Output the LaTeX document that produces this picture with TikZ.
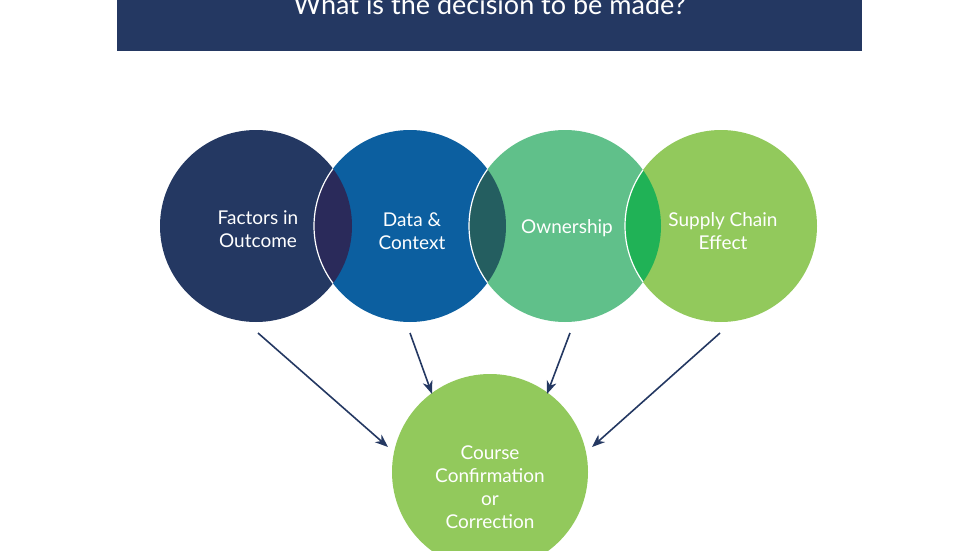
\documentclass[tikz,border=0pt]{standalone}
\usepackage{fontspec}
\setmainfont{Lato}
\usetikzlibrary{arrows.meta}
\begin{document}
\begin{tikzpicture}[x=1pt,y=-1pt,
  lbl/.style={text=white,font=\fontsize{19}{23}\selectfont,align=center},
  arr/.style={draw=c1,line width=1.6pt,-{Stealth[length=13pt,width=10pt,inset=4pt]}}]
\definecolor{c1}{HTML}{243862}
\definecolor{c2}{HTML}{0C5FA0}
\definecolor{c3}{HTML}{60C08A}
\definecolor{c4}{HTML}{92C95C}
\definecolor{o12}{HTML}{2A2A5A}
\definecolor{o23}{HTML}{245E60}
\definecolor{o34}{HTML}{20B256}
\useasboundingbox (0,0) rectangle (980,551);
\fill[c1] (117,0) rectangle (862,51);
\node[text=white,font=\fontsize{27}{31}\selectfont] (title) at (489.5,5) {What is the decision to be made?};
\def\R{96}
\coordinate (p1) at (256,226);
\coordinate (p2) at (410,226);
\coordinate (p3) at (565,226);
\coordinate (p4) at (721,226);
\fill[c1] (p1) circle (\R);
\fill[c2] (p2) circle (\R);
\fill[c3] (p3) circle (\R);
\fill[c4] (p4) circle (\R);
\begin{scope}\clip (p1) circle (\R); \fill[o12] (p2) circle (\R); \draw[white,line width=1.2pt] (p2) circle (\R); \end{scope}
\begin{scope}\clip (p2) circle (\R); \fill[o23] (p3) circle (\R); \draw[white,line width=1.2pt] (p3) circle (\R); \end{scope}
\begin{scope}\clip (p3) circle (\R); \fill[o34] (p4) circle (\R); \draw[white,line width=1.2pt] (p4) circle (\R); \end{scope}
\node[lbl] (n1) at (258,229) {Factors in\\Outcome};
\node[lbl] (n2) at (412,231) {Data \&\\Context};
\node[lbl] (n3) at (567,228) {Ownership};
\node[lbl] (n4) at (723,231) {Supply Chain\\Effect};
\node[circle,fill=c4,minimum size=196pt,inner sep=0pt] (bot) at (490,472) {};
\node[lbl,text width=180pt] (bt) at (490,487) {Course\\Confirmation\\or\\Correction};
\coordinate (s1) at (258,333); \coordinate (e1) at (388,447);
\coordinate (s2) at (410,333); \coordinate (e2) at (432,394);
\coordinate (s3) at (570,333); \coordinate (e3) at (547,394);
\coordinate (s4) at (720,333); \coordinate (e4) at (592,447);
\draw[arr] (s1) -- (e1);
\draw[arr] (s2) -- (e2);
\draw[arr] (s3) -- (e3);
\draw[arr] (s4) -- (e4);
\end{tikzpicture}
\end{document}
